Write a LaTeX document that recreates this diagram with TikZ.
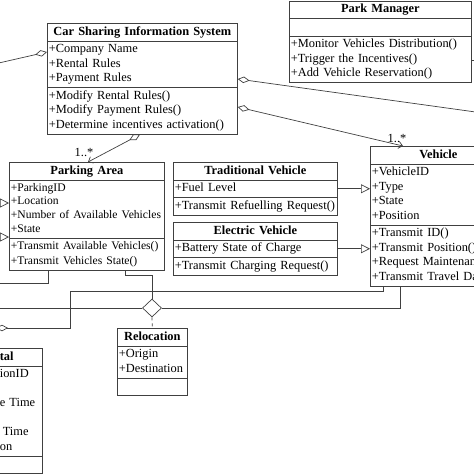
\documentclass[tikz,border=0pt]{standalone}
\usepackage{fontspec}
\setmainfont{Liberation Serif}
\usepackage{tikz}
\usetikzlibrary{arrows.meta,shapes.multipart,shapes.geometric,calc}
\newcommand{\parkfont}{\fontsize{11.6}{13.7}\selectfont}
\newcommand{\umltitle}[1]{\makebox[\hsize][c]{\strut\textbf{#1}}}
\tikzset{%
umlclass/.style={draw=black!75, line width=0.7pt, rectangle split, rectangle split parts=3,
  text width=#1, inner xsep=1.5pt, inner ysep=1.2pt, align=left, anchor=north west,
  font=\fontsize{12.4}{14.5}\selectfont},
link/.style={draw=black!75, line width=0.7pt},
aggr/.style={link, {Diamond[open,length=12pt,width=6.5pt]}-},
navi/.style={link, {Diamond[open,length=12pt,width=6.5pt]}-{Straight Barb[length=4pt,width=7pt]}},
inherit/.style={link, -{Triangle[open,length=9pt,width=9pt]}},
mult/.style={anchor=south, inner sep=0.5pt, font=\fontsize{12.4}{14.5}\selectfont}
}

\begin{document}
\begin{tikzpicture}[x=1pt,y=-1pt]
\useasboundingbox (0,0) rectangle (474,474);
\clip (0,0) rectangle (474,474);

\node[umlclass=187pt] (csis) at (47,23) {\umltitle{Car Sharing Information System}
  \nodepart{two}\strut+Company Name\\+Rental Rules\\+Payment Rules\strut
  \nodepart{three}\strut+Modify Rental Rules()\\+Modify Payment Rules()\\+Determine incentives activation()\strut};

\node[umlclass=179pt] (pm) at (289,0.5) {\umltitle{Park Manager}
  \nodepart{two}\strut
  \nodepart{three}\strut+Monitor Vehicles Distribution()\\+Trigger the Incentives()\\+Add Vehicle Reservation()\strut};

\node[umlclass=152pt] (park) at (9,162) {\umltitle{Parking Area}
  \nodepart{two}\parkfont\strut+ParkingID\\+Location\\+Number of Available Vehicles\\+State\strut
  \nodepart{three}\parkfont\strut+Transmit Available Vehicles()\\+Transmit Vehicles State()\strut};

\node[umlclass=161pt] (trad) at (173,162) {\umltitle{Traditional Vehicle}
  \nodepart{two}\strut+Fuel Level\strut
  \nodepart{three}\strut+Transmit Refuelling Request()\strut};

\node[umlclass=161pt] (elec) at (173,222) {\umltitle{Electric Vehicle}
  \nodepart{two}\strut+Battery State of Charge\strut
  \nodepart{three}\strut+Transmit Charging Request()\strut};

\node[umlclass=133pt] (vehicle) at (370,146) {\umltitle{Vehicle}
  \nodepart{two}\strut+VehicleID\\+Type\\+State\\+Position\strut
  \nodepart{three}\strut+Transmit ID()\\+Transmit Position()\\+Request Maintenance()\\+Transmit Travel Data()\strut};

\node[umlclass=67pt] (reloc) at (117,328) {\umltitle{Relocation}
  \nodepart{two}\strut+Origin\\+Destination\strut
  \nodepart{three}\strut};

\node[umlclass=41pt] (rental) at (-2,348) {\strut\textbf{tal}\strut
  \nodepart{two}\strut ionID\\\strut\\e Time\\\strut\\\hspace*{3pt}Time\\on\strut
  \nodepart{three}\strut};

\node[draw=black!75, line width=0.7pt, diamond, minimum width=19pt, minimum height=18pt, inner sep=0pt] (assoc) at (152,308) {};

% free ends beyond the frame
\coordinate (offCompany) at (-10,65);
\coordinate (offPayment) at (490,114);
\coordinate (offTrigger) at (490,60);
\coordinate (offLocation) at (-10,203);
\coordinate (offMethods) at (-10,237);
\coordinate (offParking) at (-10,283);
\coordinate (offRental) at (-4,328);
\coordinate (offAssoc) at (-10,308);

\draw[aggr] (csis.west |- 0,52) -- (offCompany);
\draw[aggr] (csis.east |- 0,79) -- (offPayment);
\draw[navi] (csis.east |- 0,107) -- (vehicle.north -| 403,0) node[mult, xshift=-6pt, yshift=2pt] {1..*};
\draw[navi] (csis.south -| 140,0) -- (park.north -| 88,0) node[mult, xshift=-4pt, yshift=4pt] {1..*};
\draw[link] (pm.east |- 0,60) -- (offTrigger);

\draw[inherit] (trad.east) -- (trad.east -| vehicle.west);
\draw[inherit] (elec.east) -- (elec.east -| vehicle.west);
\draw[inherit] (offLocation) -- (offLocation -| park.west);
\draw[inherit] (offMethods) -- (offMethods -| park.west);

\draw[link] (park.south -| 48,0) |- (offParking);
\draw[link] (park.south -| 125,0) |- (assoc.north |- 0,275) -- (assoc.north);
\draw[link, -{Diamond[open,length=12pt,width=6.5pt]}] (vehicle.south -| 383,0) |- (70,291) |- (offRental);
\draw[link] (vehicle.south -| 400,0) |- (assoc.east);
\draw[link] (assoc.west) -- (offAssoc);
\draw[link, dashed] (assoc.south) -- (reloc.north);

\end{tikzpicture}
\end{document}
